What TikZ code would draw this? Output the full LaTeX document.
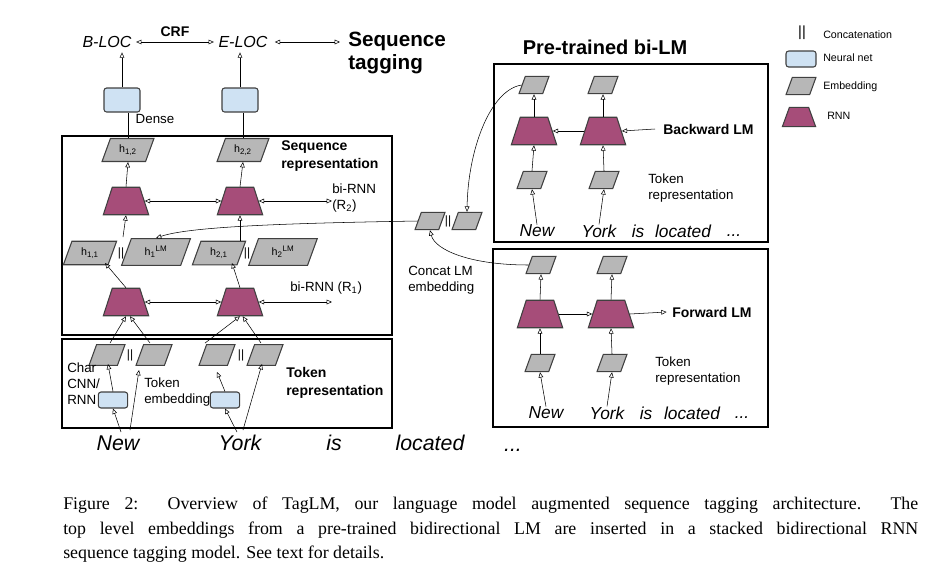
\documentclass[tikz,border=0pt]{standalone}
\usepackage{fontspec}
\setmainfont{Liberation Sans}
\newfontfamily\capfont{Liberation Serif}
\usetikzlibrary{shapes.geometric,arrows.meta}
\definecolor{rnnc}{HTML}{A64D79}
\definecolor{embc}{HTML}{B7B7B7}
\definecolor{nnc}{HTML}{CFE2F3}
\begin{document}
\begin{tikzpicture}[x=0.75pt,y=-0.75pt,
  tip/.style={-{Triangle[open,length=4pt,width=3.5pt]}},
  btip/.style={{Triangle[open,length=4pt,width=3.5pt]}-{Triangle[open,length=4pt,width=3.5pt]}},
  emb/.style={trapezium,trapezium left angle=70,trapezium right angle=110,fill=embc,draw=black!75,line width=0.8pt,inner sep=1pt,minimum height=#1,font=\fontsize{8}{8}\selectfont},
  emb/.default=12pt,
  rnn/.style={trapezium,trapezium angle=72,fill=rnnc,draw=black!75,line width=0.8pt,inner sep=1pt,minimum width=34pt,minimum height=19pt},
  nn/.style={rectangle,rounded corners=2pt,fill=nnc,draw=black!75,line width=0.8pt,inner sep=0pt},
  lbl/.style={font=\fontsize{10}{12}\selectfont,align=left,inner sep=0pt},
  blbl/.style={font=\bfseries\fontsize{10.5}{13}\selectfont,align=left,inner sep=0pt},
  word/.style={font=\itshape\fontsize{16}{16}\selectfont,inner sep=0pt},
  sword/.style={font=\itshape\fontsize{13}{13}\selectfont,inner sep=0pt},
  box/.style={draw=black,line width=0.8pt},
  bar/.style={font=\fontsize{9}{9}\selectfont,inner sep=0pt}]
\useasboundingbox (0,0) rectangle (944,586);
% top
\node[font=\itshape\fontsize{12}{12}\selectfont] (bloc) at (107,42) {B-LOC};
\node[font=\itshape\fontsize{12}{12}\selectfont] (eloc) at (243,42) {E-LOC};
\node[font=\bfseries\fontsize{10.5}{10.5}\selectfont] (crf) at (175,32) {CRF};
\node[font=\bfseries\fontsize{15.5}{17}\selectfont,align=left,anchor=west,inner sep=0pt] (st) at (348,53) {Sequence\\tagging};
\draw[btip] (bloc.east) -- (eloc.west);
\draw[btip] ([xshift=2pt]eloc.east) -- ([xshift=-6pt]st.west |- eloc.east);
\node[nn,minimum width=27pt,minimum height=18pt] (d1) at (122,100) {};
\node[nn,minimum width=27pt,minimum height=18pt] (d2) at (240,100) {};
\node[lbl] (dense) at (155,119) {Dense};
\draw[tip] (d1.north) -- (bloc.south -| d1.north);
\draw[tip] (d2.north) -- (eloc.south -| d2.north);
% boxes
\node[box,minimum width=330*0.75pt,minimum height=199*0.75pt,inner sep=0pt] (seqbox) at (227,235.5) {};
\node[box,minimum width=330*0.75pt,minimum height=89*0.75pt,inner sep=0pt] (tokbox) at (227,383.5) {};
\node[blbl,anchor=west] (seqrep) at (281,156) {Sequence\\representation};
\node[blbl,anchor=west] (tokrep) at (286,383) {Token\\representation};
% sequence
\node[emb=17pt,minimum width=39pt] (h12) at (128,150) {h\textsubscript{1,2}};
\node[emb=17pt,minimum width=39pt] (h22) at (243,150) {h\textsubscript{2,2}};
\node[rnn] (r21) at (126,201) {};
\node[rnn] (r22) at (240,201) {};
\node[emb=17pt,minimum width=40pt] (h11) at (90,253) {h\textsubscript{1,1}};
\node[emb=20pt,minimum width=45pt] (h1lm) at (156,252) {h\textsubscript{1}\textsuperscript{LM}};
\node[emb=17pt,minimum width=40pt] (h21) at (219,253) {h\textsubscript{2,1}};
\node[emb=20pt,minimum width=45pt] (h2lm) at (283,252) {h\textsubscript{2}\textsuperscript{LM}};
\node[bar] (b1) at (121,253) {||};
\node[bar] (b2) at (247,253) {||};
\node[rnn] (r11) at (126,302) {};
\node[rnn] (r12) at (240,302) {};
\draw (h12.north) -- (d1.south -| h12.north);
\draw (h22.north) -- (d2.south -| h22.north);
\draw[tip] (r21.north) -- (h12.south);
\draw[tip] (r22.north) -- (h22.south);
\draw[tip] (123,237) -- (r21.south);
\draw[tip] (h21.north -| r22.south) -- (r22.south);
\draw[tip] (r11.north) -- (105,263);
\draw[tip] (r12.north) -- (232,263);
\draw[btip] (r21.east) -- (r22.west);
\draw[btip] (r11.east) -- (r12.west);
\coordinate (a2) at (332,201);
\coordinate (a1) at (332,302);
\draw[btip] (r22.east) -- (a2);
\draw[btip] (r12.east) -- (a1);
\node[lbl,anchor=west] (r2l) at (332,198) {bi-RNN\\(R\textsubscript{2})};
\node[lbl,anchor=west] (r1l) at (290,288) {bi-RNN (R\textsubscript{1})};
% token
\node[emb,minimum width=27pt] (t1a) at (107,355) {};
\node[emb,minimum width=27pt] (t1b) at (154,355) {};
\node[emb,minimum width=27pt] (t2a) at (217,355) {};
\node[emb,minimum width=27pt] (t2b) at (265,355) {};
\node[bar] (b3) at (130,355) {||};
\node[bar] (b4) at (241,355) {||};
\node[nn,minimum width=22pt,minimum height=12pt] (c1) at (113,400) {};
\node[nn,minimum width=22pt,minimum height=12pt] (c2) at (225,400) {};
\node[lbl,anchor=west] (charl) at (67,384) {Char\\CNN/\\RNN};
\node[lbl,anchor=west] (tokl) at (144,392) {Token\\embedding};
\draw[tip] (t1a.north) ++(3,-1) -- (r11.south);
\draw[tip] (t1b.north) ++(-4,-1) -- ([xshift=3pt]r11.south);
\draw[tip] (t2a.north) ++(-12,-1) -- (r12.south);
\draw[tip] (t2b.north) ++(-4,-1) -- ([xshift=2pt]r12.south);
\draw[tip] (c1.north) -- (108,364);
\draw[tip] (c2.north) -- (217,372);
% words
\node[word] (w1) at (118,443) {New};
\node[word] (w2) at (240,443) {York};
\node[word] (w3) at (334,443) {is};
\node[word] (w4) at (430,443) {located};
\node[word] (w5) at (513,450) {...};
\draw[tip] (121,432) -- (c1.south);
\draw[tip] (130,430) -- (139,370);
\draw[tip] (237,432) -- (c2.south);
\draw[tip] (243,430) -- (262,364);
% concat LM
\node[emb,minimum width=22.5pt] (ca) at (430,221) {};
\node[emb,minimum width=22.5pt] (cb) at (467,221) {};
\node[bar] (b5) at (448,221) {||};
\node[lbl,anchor=west] (cl) at (408,280) {Concat LM\\embedding};
\draw[tip] (ca.west) .. controls (300,223) and (190,226) .. (h1lm.north);
% right boxes
\node[font=\bfseries\fontsize{15}{15}\selectfont] (ptl) at (605,47) {Pre-trained bi-LM};
\node[box,minimum width=274*0.75pt,minimum height=178*0.75pt,inner sep=0pt] (bbox) at (631,153) {};
\node[box,minimum width=275*0.75pt,minimum height=178*0.75pt,inner sep=0pt] (fbox) at (630.5,338) {};
% backward
\node[emb,minimum width=22.5pt] (be1) at (534,85) {};
\node[emb,minimum width=22.5pt] (be2) at (603,85) {};
\node[rnn] (br1) at (534,131) {};
\node[rnn] (br2) at (603,131) {};
\node[emb,minimum width=22.5pt] (bt1) at (532,180) {};
\node[emb,minimum width=22.5pt] (bt2) at (604,180) {};
\node[blbl,anchor=west] (bl) at (663,129) {Backward LM};
\node[lbl,anchor=west] (btr) at (648,188) {Token\\representation};
\node[sword] (bw1) at (537,231) {New};
\node[sword] (bw2) at (599,231) {York};
\node[sword] (bw3) at (638,231) {is};
\node[sword] (bw4) at (683,231) {located};
\node[sword] (bw5) at (734,236) {...};
\draw[tip] (bw1.north) -- (bt1.south);
\draw[tip] (bw2.north) -- (bt2.south);
\draw[tip] (bt1.north) -- (br1.south);
\draw[tip] (bt2.north) -- (br2.south);
\draw[tip] (br1.north) -- (be1.south);
\draw[tip] (br2.north) -- (be2.south);
\draw[tip] ([xshift=-6pt]bl.west) -- (br2.east);
\draw[tip] (br2.west) -- (br1.east);
\draw[tip] (be1.west) .. controls (490,90) and (468,150) .. (cb.north);
% forward
\node[emb,minimum width=22.5pt] (fe1) at (541,265) {};
\node[emb,minimum width=22.5pt] (fe2) at (612,265) {};
\node[rnn] (fr1) at (540,314) {};
\node[rnn] (fr2) at (611,314) {};
\node[emb,minimum width=22.5pt] (ft1) at (540,363) {};
\node[emb,minimum width=22.5pt] (ft2) at (612,363) {};
\node[blbl,anchor=west] (fl) at (672,312) {Forward LM};
\node[lbl,anchor=west] (ftr) at (655,371) {Token\\representation};
\node[sword] (fw1) at (546,413) {New};
\node[sword] (fw2) at (607,413) {York};
\node[sword] (fw3) at (646,413) {is};
\node[sword] (fw4) at (692,413) {located};
\node[sword] (fw5) at (742,418) {...};
\draw[tip] (fw1.north) -- (ft1.south);
\draw[tip] (fw2.north) -- (ft2.south);
\draw[tip] (ft1.north) -- (fr1.south);
\draw[tip] (ft2.north) -- (fr2.south);
\draw[tip] (fr1.north) -- (fe1.south);
\draw[tip] (fr2.north) -- (fe2.south);
\draw[tip] (fr1.east) -- (fr2.west);
\draw[tip] (fr2.east) -- ([xshift=-4pt]fl.west);
\draw[tip] (fe1.west) .. controls (470,265) and (435,250) .. (ca.south);
% legend
\node[font=\fontsize{11}{11}\selectfont,inner sep=0pt] (lg0) at (802,33) {||};
\node[nn,minimum width=22.5pt,minimum height=12pt] (lg1) at (801,59) {};
\node[emb,minimum width=22.5pt,minimum height=12.5pt] (lg2) at (801,86) {};
\node[rnn,minimum width=25pt,minimum height=12.5pt,trapezium angle=70] (lg3) at (799,117) {};
\node[font=\fontsize{8}{8}\selectfont,anchor=west,inner sep=0pt] (lt0) at (823,35) {Concatenation};
\node[font=\fontsize{8}{8}\selectfont,anchor=west,inner sep=0pt] (lt1) at (823,58) {Neural net};
\node[font=\fontsize{8}{8}\selectfont,anchor=west,inner sep=0pt] (lt2) at (823,87) {Embedding};
\node[font=\fontsize{8}{8}\selectfont,anchor=west,inner sep=0pt] (lt3) at (827,116) {RNN};
% caption
\node[anchor=north west,inner sep=0pt,text width=855*0.75pt,align=justify,font=\capfont\fontsize{13.4}{18.4}\selectfont] (cap) at (63,497) {Figure 2:\ \ Overview of TagLM, our language model augmented sequence tagging architecture.\ \ The\linebreak top level embeddings from a pre-trained bidirectional LM are inserted in a stacked bidirectional RNN\linebreak sequence tagging model. See text for details.};
\end{tikzpicture}
\end{document}
